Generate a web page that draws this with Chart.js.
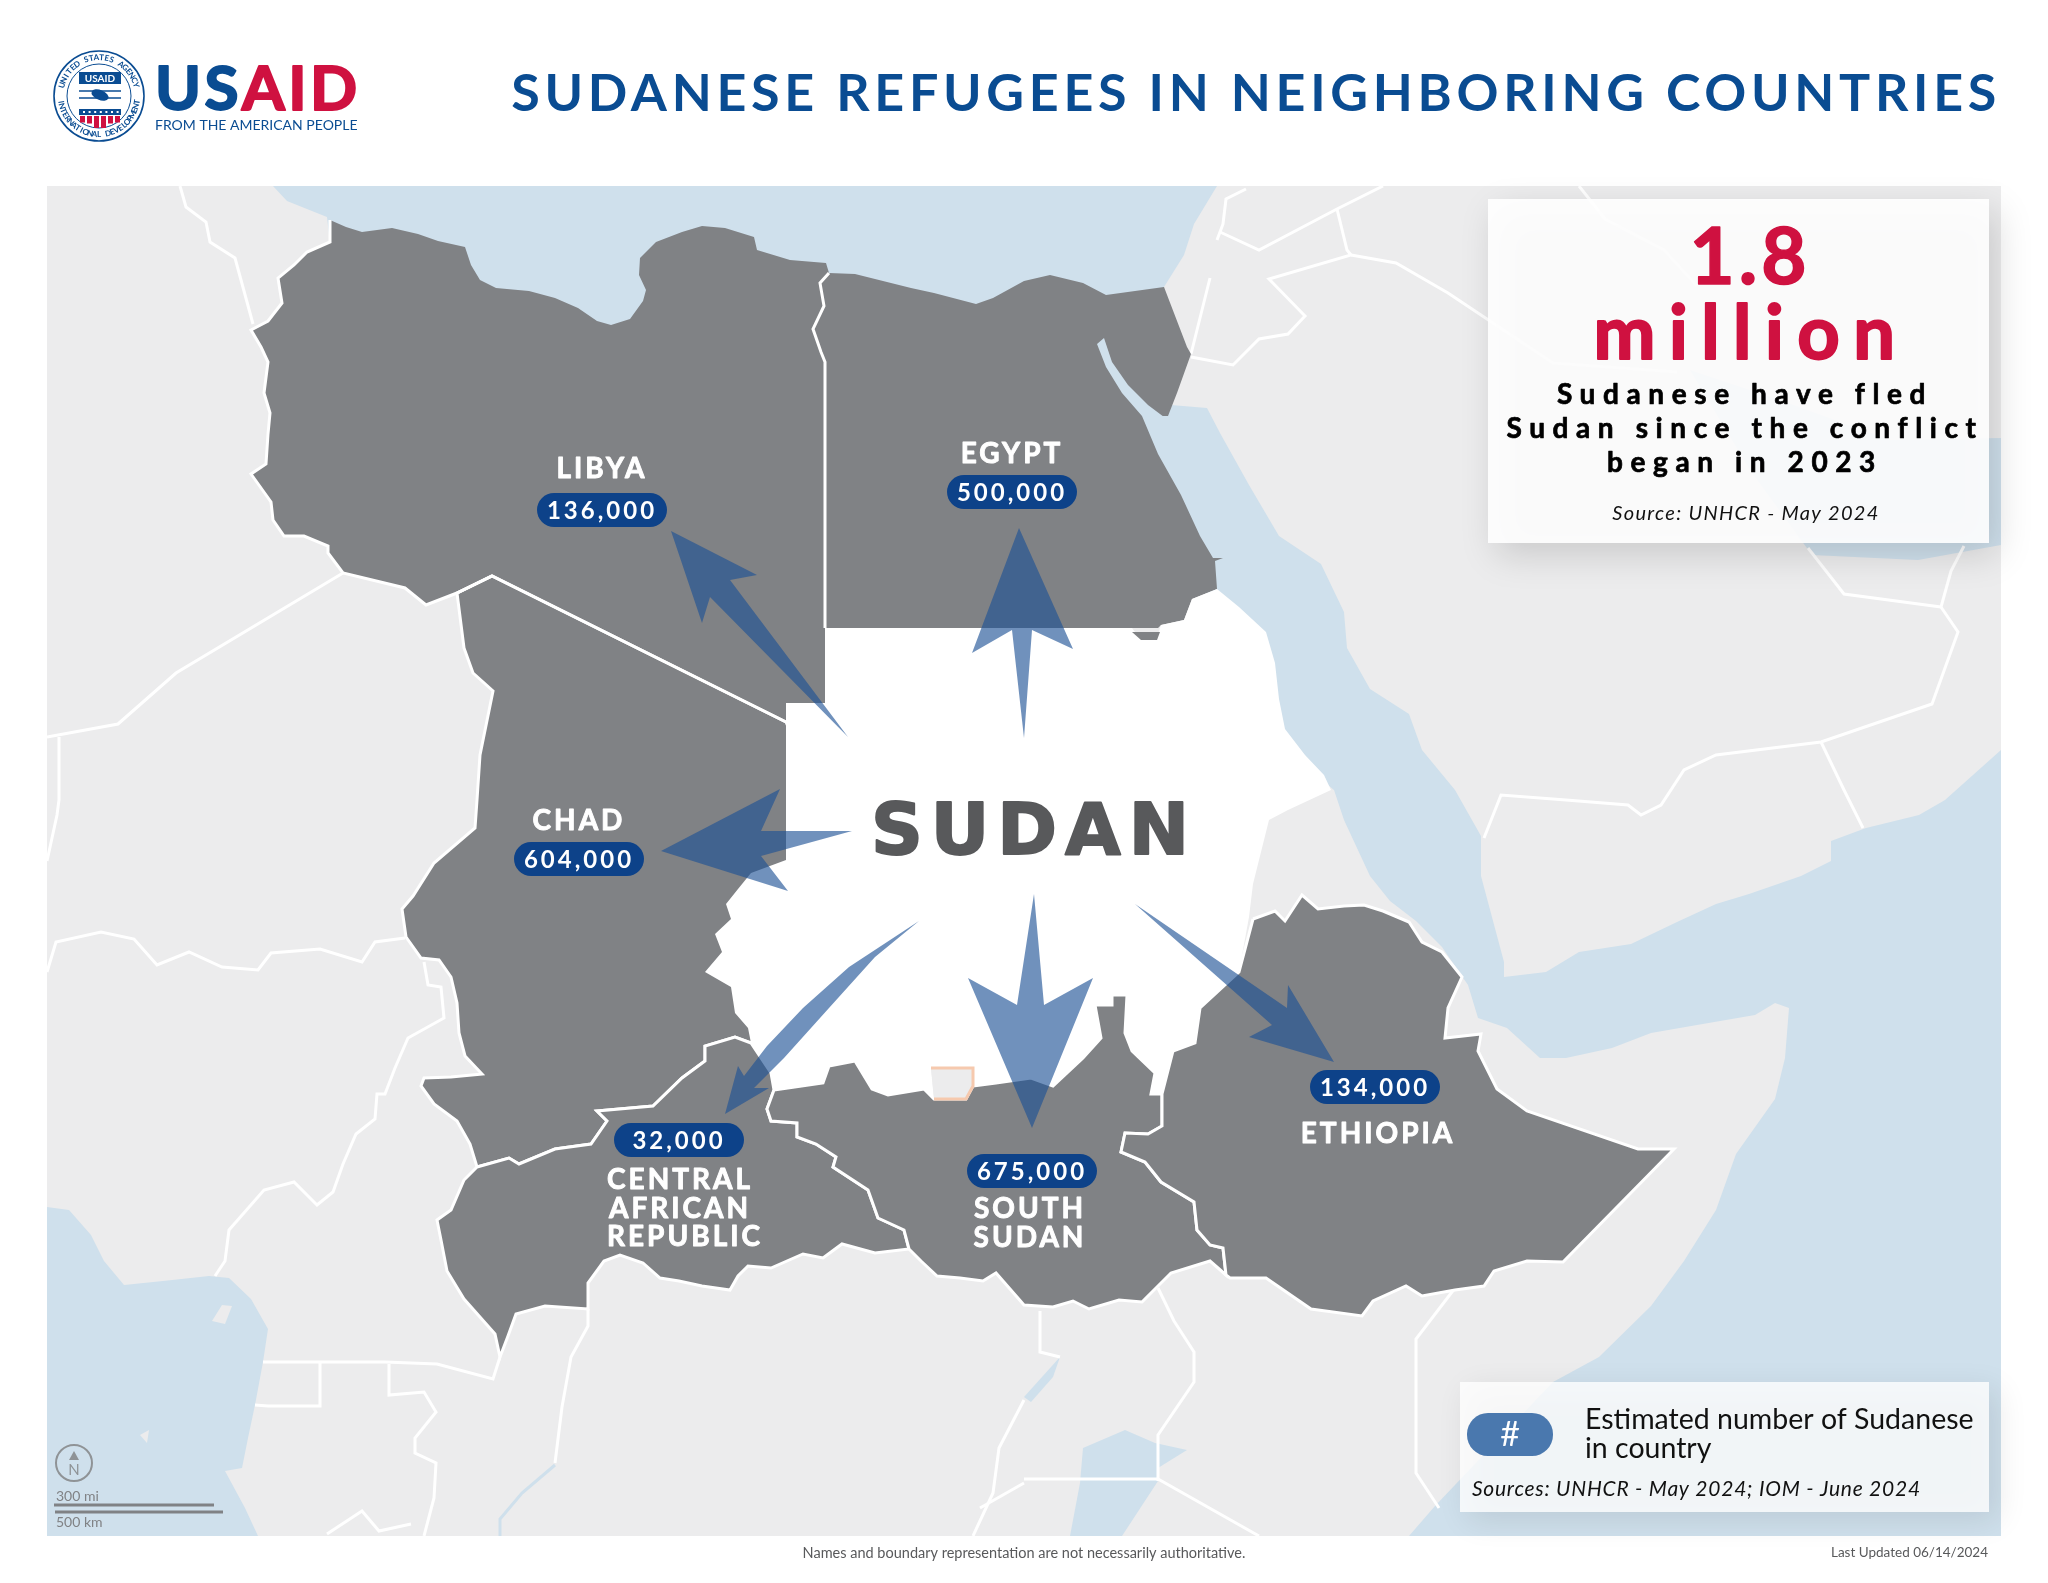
<!DOCTYPE html>
<html>
<head>
<meta charset="utf-8">
<title>Sudanese refugees in neighboring countries</title>
<script src="https://cdn.jsdelivr.net/npm/chart.js@4"></script>
<style>
  html, body { margin: 0; padding: 0; background: #fff; }
  canvas { display: block; }
</style>
</head>
<body>
<canvas id="map" width="2048" height="1583"></canvas>
<script>
// refugee figures
const countries = ["LIBYA", "EGYPT", "CHAD", "CENTRAL AFRICAN REPUBLIC", "SOUTH SUDAN", "ETHIOPIA"];
const refugees = [136000, 500000, 604000, 32000, 675000, 134000];
const nameLines = [["LIBYA"], ["EGYPT"], ["CHAD"], ["CENTRAL", "AFRICAN", "REPUBLIC"], ["SOUTH", "SUDAN"], ["ETHIOPIA"]];
const pillCentres = [[602, 510], [1012, 492], [579, 859], [679, 1140], [1032, 1171], [1375, 1087]];
const nameCentres = [[602, 469], [1012, 454], [579, 821], [680, 1180], [1030, 1209], [1378, 1134]];

// outlines, in map units
const chadCarBorder = [[477,1167],[509,1158],[519,1164],[555,1149],[591,1144],[607,1121],[597,1111],[653,1106],[682,1078],[705,1061],[705,1046],[735,1037],[751,1043]];
const carSudanBorder = [[771,1073],[774,1090]];
const carSouthSudanBorder = [[774,1090],[767,1109],[771,1121],[797,1123],[797,1137],[816,1144],[836,1157],[833,1167],[868,1190],[878,1218],[904,1230],[909,1249]];
const southSudanEthiopiaBorder = [[1151,1094],[1162,1094],[1162,1126],[1148,1134],[1125,1133],[1121,1152],[1145,1162],[1161,1182],[1194,1202],[1197,1230],[1210,1245],[1223,1248],[1226,1275]];
const libyaWestBorder = [[330,220],[330,242],[307,252],[294,265],[278,278],[282,303],[268,321],[251,330],[261,347],[268,362],[264,393],[270,413],[268,434],[266,464],[251,474],[271,502],[273,520],[284,536],[304,536],[328,546],[328,553],[343,573],[405,588],[426,605],[457,593],[492,576]];
const libyaChadBorder = [[457,593],[492,576],[786,722]];
const libyaEgyptBorder = [[829,273],[820,283],[824,306],[813,329],[821,352],[825,362],[825,628]];
const libyaCoast = [[330,220],[346,227],[362,232],[392,228],[418,234],[438,241],[465,247],[471,265],[480,280],[496,288],[529,291],[555,298],[578,308],[597,321],[611,325],[630,319],[643,301],[646,290],[639,275],[640,258],[656,242],[682,232],[702,226],[725,228],[754,237],[757,250],[790,260],[826,263],[829,273]];
const libya = [...libyaCoast, [820,283],[824,306],[813,329],[821,352],[825,362],[825,703],[786,703],[786,722],[492,576],[457,593],[426,605],[405,588],[343,573],[328,553],[328,546],[304,536],[284,536],[273,520],[271,502],[251,474],[266,464],[268,434],[270,413],[264,393],[268,362],[261,347],[251,330],[268,321],[282,303],[278,278],[294,265],[307,252],[330,242]];
const egypt = [[829,273],[855,274],[911,288],[934,293],[976,304],[993,298],[1024,281],[1050,275],[1083,283],[1106,295],[1135,291],[1164,287],[1187,347],[1191,354],[1177,393],[1168,416],[1142,416],[1158,454],[1181,495],[1200,536],[1213,558],[1223,558],[1215,561],[1217,589],[1192,599],[1184,620],[1161,625],[1158,628],[825,628],[825,362],[821,352],[813,329],[824,306],[820,283]];
const gulfOfSuez = [[1097,344],[1104,338],[1112,362],[1128,385],[1148,405],[1164,417],[1142,416],[1122,393],[1106,367]];
const halayeb = [[1132,632],[1160,632],[1157,640],[1141,640]];
const chad = [[457,593],[492,576],[786,722],[820,800],[790,900],[780,1000],[751,1043], ...chadCarBorder.slice().reverse(), [470,1144],[457,1121],[434,1104],[421,1086],[424,1078],[451,1077],[482,1074],[465,1056],[459,1033],[457,1003],[451,977],[439,960],[421,958],[406,937],[402,909],[413,896],[434,863],[475,828],[477,800],[480,755],[493,691],[473,673],[464,648],[457,593]];
const car = [...chadCarBorder, ...carSudanBorder, ...carSouthSudanBorder, [875,1253],[842,1244],[823,1258],[803,1254],[771,1268],[748,1266],[738,1276],[730,1290],[702,1286],[679,1281],[660,1278],[643,1263],[620,1255],[604,1261],[588,1283],[588,1309],[545,1306],[516,1314],[508,1336],[500,1357],[495,1334],[464,1299],[447,1271],[441,1240],[437,1220],[451,1210],[464,1180],[477,1167]];
const southSudan = [[774,1090],[823,1083],[829,1066],[855,1061],[872,1089],[888,1095],[924,1089],[934,1099],[966,1099],[973,1086],[996,1083],[1031,1078],[1053,1086],[1083,1058],[1101,1038],[1095,1005],[1112,1005],[1112,995],[1127,995],[1125,1033],[1132,1051],[1155,1073], ...southSudanEthiopiaBorder, [1210,1261],[1171,1273],[1142,1302],[1119,1300],[1089,1309],[1073,1301],[1053,1307],[1024,1305],[996,1273],[983,1281],[960,1278],[937,1276],[921,1261],[909,1249], ...carSouthSudanBorder.slice().reverse()];
const ethiopia = [[1253,919],[1275,911],[1285,921],[1302,895],[1318,909],[1344,906],[1364,905],[1383,911],[1409,922],[1422,942],[1442,952],[1462,977],[1448,1008],[1445,1038],[1481,1034],[1478,1051],[1497,1089],[1527,1111],[1638,1149],[1674,1149],[1563,1262],[1527,1261],[1494,1271],[1484,1286],[1455,1290],[1422,1296],[1406,1286],[1373,1301],[1362,1316],[1311,1309],[1266,1278],[1230,1278],[1226,1275], ...southSudanEthiopiaBorder.slice().reverse().slice(1, 12), [1173,1051],[1195,1043],[1200,1008],[1239,972],[1253,919]];
const sudan = [[786,703],[825,703],[825,628],[1132,628],[1141,640],[1157,640],[1160,628],[1161,625],[1184,620],[1192,599],[1217,589],[1239,607],[1266,632],[1275,663],[1279,699],[1285,729],[1305,755],[1324,775],[1331,790],[1288,810],[1269,820],[1253,884],[1249,917],[1239,972],[1200,1008],[1195,1043],[1173,1051],[1162,1094],[1151,1094],[1155,1073],[1132,1051],[1125,1033],[1127,995],[1112,995],[1112,1005],[1095,1005],[1101,1038],[1083,1058],[1053,1086],[1031,1078],[996,1083],[973,1086],[973,1068],[931,1068],[934,1099],[924,1089],[888,1095],[872,1089],[855,1061],[829,1066],[823,1083],[774,1090],[771,1073],[751,1043],[748,1028],[735,1013],[731,987],[705,972],[722,952],[715,934],[731,919],[726,904],[738,889],[751,873],[786,860]];
const abyei = [[931,1068],[973,1068],[973,1086],[966,1099],[934,1099]];

// water
const mediterranean = [[273,186],[287,201],[307,209],[327,217],[340,330],[1150,330],[1164,287],[1184,255],[1194,224],[1217,186]];
const redSeaAndOcean = [[1171,405],[1207,408],[1220,433],[1249,485],[1279,536],[1321,564],[1344,612],[1347,648],[1370,689],[1409,714],[1422,750],[1455,790],[1481,836],[1481,876],[1504,962],[1504,977],[1546,972],[1579,952],[1631,944],[1677,922],[1716,904],[1749,894],[1801,876],[1831,861],[1831,841],[1866,828],[1919,815],[1945,800],[2001,750],[2001,1536],[1409,1536],[1435,1506],[1553,1382],[1599,1357],[1651,1306],[1684,1261],[1716,1210],[1736,1154],[1775,1099],[1785,1058],[1789,1008],[1775,1003],[1755,1015],[1697,1025],[1651,1033],[1612,1048],[1566,1058],[1540,1058],[1507,1028],[1478,1018],[1468,985],[1442,947],[1416,921],[1390,901],[1370,876],[1344,820],[1334,790],[1310,770],[1260,700],[1230,640],[1190,560],[1135,440],[1135,416],[1160,405]];
const persianGulf = [[1690,370],[1780,400],[1890,440],[2001,438],[2001,545],[1918,560],[1812,555],[1750,470]];
const atlantic = [[47,1207],[69,1210],[91,1235],[104,1261],[124,1285],[163,1281],[209,1276],[229,1278],[251,1299],[268,1329],[263,1362],[255,1405],[248,1438],[242,1468],[225,1471],[245,1508],[258,1536],[47,1536]];
const bioko = [[212,1321],[222,1305],[232,1306],[225,1324]];
const saoTome = [[140,1435],[149,1430],[147,1443]];
const lakeVictoria = [[1083,1448],[1125,1430],[1155,1443],[1187,1450],[1158,1468],[1158,1481],[1122,1536],[1070,1536],[1080,1483]];
const lakeAlbert = [[1024,1397],[1060,1357],[1053,1377],[1031,1402]];
const congoRiver = [[555,1465],[522,1493],[500,1519],[500,1536]];

// thin borders on the pale land
const otherBorders = [
  [[180,186],[186,207],[206,222],[210,242],[235,258],[253,324]],
  [[343,573],[176,673],[118,724],[47,737]],
  [[59,737],[59,800],[57,815],[47,861]],
  [[47,972],[56,942],[101,932],[134,939],[157,965],[189,952],[222,967],[258,970],[271,953],[320,949],[362,962],[375,942],[405,938]],
  [[424,962],[428,985],[441,987],[444,1018],[408,1038],[395,1068],[385,1094],[377,1094],[375,1119],[356,1134],[343,1164],[333,1192],[317,1205],[294,1182],[264,1190],[229,1230],[225,1261],[215,1276]],
  [[263,1362],[320,1362],[385,1362],[437,1364],[493,1379],[500,1357]],
  [[320,1362],[320,1406],[268,1406],[255,1405]],
  [[389,1364],[389,1395],[424,1392],[436,1412],[415,1438],[415,1453],[436,1463],[434,1498],[424,1536]],
  [[327,1534],[362,1511],[379,1531],[411,1524]],
  [[588,1309],[588,1326],[571,1357],[562,1407],[555,1463]],
  [[1040,1311],[1040,1352],[1060,1357]],
  [[1158,1288],[1174,1321],[1194,1352],[1194,1382],[1158,1435],[1158,1481]],
  [[1024,1479],[1158,1479],[1259,1536]],
  [[1455,1288],[1416,1339],[1416,1473],[1439,1508]],
  [[1024,1400],[999,1448],[993,1493],[973,1536]],
  [[1024,1483],[980,1508]],
  [[1484,838],[1501,795],[1566,800],[1628,805],[1641,815],[1661,805],[1684,770],[1716,755],[1821,742],[1932,704],[1958,632],[1941,607],[1951,571],[1964,546]],
  [[1821,742],[1844,790],[1863,828]],
  [[1941,607],[1844,594],[1808,548]],
  [[1246,189],[1226,199],[1223,224],[1217,240]],
  [[1220,232],[1259,250],[1337,209],[1383,186]],
  [[1337,209],[1347,250],[1351,255],[1269,279],[1305,316],[1288,334],[1259,339],[1233,365],[1191,357]],
  [[1210,278],[1191,354]],
  [[1351,255],[1396,263],[1448,293],[1553,363],[1677,372]],
  [[1579,186],[1605,219],[1664,250],[1697,286]]
];

// flows out of Sudan
const libyaArrow = [[671,531],[757,575],[730,580],[848,737],[710,597],[702,623]];
const egyptArrow = [[1019,528],[972,653],[1012,630],[1024,738],[1032,630],[1073,649]];
const chadArrow = [[661,851],[780,789],[761,831],[852,831],[761,856],[788,891]];
const carArrow = [[725,1114],[738,1066],[744,1076],[767,1046],[803,1008],[849,967],[919,921],[875,957],[829,1008],[784,1058],[754,1088],[769,1088]];
const southSudanArrow = [[1034,894],[1044,1005],[1093,978],[1032,1128],[968,978],[1017,1005]];
const ethiopiaArrow = [[1334,1062],[1249,1037],[1272,1025],[1135,904],[1287,1008],[1288,985]];

const SEA = "#cfe0ec", LAND = "#ececed", GREY = "#808285", WHITE = "#ffffff";
const ARROW = "rgba(28, 81, 149, 0.63)";
const NAVY = "#0a4c92", PILL = "#0d4289", RED = "#cf1140";
const FONT = "Lato, 'Open Sans', sans-serif";

function area(points, color, border) {
  return {
    data: points, showLine: true, fill: "shape", backgroundColor: color, pointRadius: 0,
    borderColor: border || color, borderWidth: border ? 3 : 0, tension: 0
  };
}
function line(points, color, width) {
  return { data: points, showLine: true, fill: false, borderColor: color, borderWidth: width, pointRadius: 0, tension: 0 };
}

// listed bottom first, reversed below because Chart.js paints the first dataset last
const layers = [
  area(mediterranean, SEA), area(redSeaAndOcean, SEA), area(persianGulf, SEA), area(atlantic, SEA),
  area(bioko, LAND), area(saoTome, LAND), area(lakeVictoria, SEA), area(lakeAlbert, SEA),
  line(congoRiver, SEA, 3),
  ...otherBorders.map(b => line(b, WHITE, 3)),
  area(libya, GREY), area(egypt, GREY), area(gulfOfSuez, SEA),
  area(chad, GREY, WHITE), area(car, GREY, WHITE), area(southSudan, GREY, WHITE), area(ethiopia, GREY, WHITE),
  line(libyaWestBorder, WHITE, 3), line(libyaChadBorder, WHITE, 3), line(libyaEgyptBorder, WHITE, 3),
  area(sudan, WHITE), area(halayeb, GREY), area(abyei, LAND, "#f6c9ae"),
  area(libyaArrow, ARROW), area(egyptArrow, ARROW), area(chadArrow, ARROW),
  area(carArrow, ARROW), area(southSudanArrow, ARROW), area(ethiopiaArrow, ARROW)
];

function put(ctx, str, x, y, font, color, align, spacing, heavy) {
  ctx.font = font;
  ctx.fillStyle = color;
  ctx.textAlign = align || "center";
  ctx.textBaseline = "middle";
  ctx.letterSpacing = (spacing || 0) + "px";
  if (heavy) {
    ctx.strokeStyle = color;
    ctx.lineWidth = heavy;
    ctx.lineJoin = "round";
    ctx.strokeText(str, x, y);
  }
  ctx.fillText(str, x, y);
  ctx.letterSpacing = "0px";
}

function drawSeal(ctx, X, Y) {
  const cx = X(99), cy = Y(96);
  ctx.strokeStyle = NAVY;
  ctx.lineWidth = 1.6;
  ctx.beginPath(); ctx.arc(cx, cy, 45, 0, Math.PI * 2); ctx.stroke();
  ctx.lineWidth = 1;
  ctx.beginPath(); ctx.arc(cx, cy, 32, 0, Math.PI * 2); ctx.stroke();
  ctx.fillStyle = NAVY;
  const arcText = (str, mid, step, flip) => {
    [...str].forEach((ch, i) => {
      const a = mid + (i - (str.length - 1) / 2) * step;
      ctx.save();
      ctx.translate(cx + 38.5 * Math.cos(a), cy + 38.5 * Math.sin(a));
      ctx.rotate(flip ? a - Math.PI / 2 : a + Math.PI / 2);
      ctx.font = "bold 8px " + FONT;
      ctx.textAlign = "center";
      ctx.textBaseline = "middle";
      ctx.fillText(ch, 0, 0);
      ctx.restore();
    });
  };
  arcText("UNITED STATES AGENCY", -Math.PI / 2, 0.135, false);
  arcText("INTERNATIONAL DEVELOPMENT", Math.PI / 2, -0.118, true);
  ctx.fillRect(X(79), Y(72), 42, 12);
  put(ctx, "USAID", X(100), Y(78.5), "bold 10px " + FONT, WHITE);
  ctx.fillStyle = NAVY;
  ctx.lineWidth = 1.5;
  ctx.beginPath(); ctx.moveTo(X(79), Y(91)); ctx.lineTo(X(121), Y(91)); ctx.stroke();
  ctx.beginPath(); ctx.moveTo(X(79), Y(98)); ctx.lineTo(X(121), Y(98)); ctx.stroke();
  ctx.beginPath(); ctx.ellipse(X(100), Y(95), 9, 5, 0.4, 0, Math.PI * 2); ctx.fill();
  ctx.fillRect(X(79), Y(109), 42, 6);
  ctx.fillStyle = WHITE;
  for (let i = 0; i < 7; i++) ctx.fillRect(X(83 + i * 5.6), Y(111), 2, 2);
  ctx.fillStyle = RED;
  for (let i = 0; i < 6; i++) {
    const h = i === 2 || i === 3 ? 12 : 9 - Math.abs(i - 2.5);
    ctx.fillRect(X(80 + i * 7), Y(116), 5, h);
  }
}

const pagePlugin = {
  id: "page",
  beforeDraw(chart) {
    const { ctx, chartArea: a } = chart;
    ctx.letterSpacing = "4.7px"; // picked up by the title box
    ctx.save();
    ctx.fillStyle = LAND;
    ctx.fillRect(a.left, a.top, a.width, a.height);
    ctx.restore();
  },
  beforeDatasetsDraw(chart) {
    chart.ctx.letterSpacing = "0px";
  },
  afterDraw(chart) {
    const { ctx, scales } = chart;
    const X = v => scales.x.getPixelForValue(v), Y = v => scales.y.getPixelForValue(v);
    ctx.save();

    // country names and pills
    countries.forEach((c, i) => {
      const [px, py] = pillCentres[i];
      ctx.fillStyle = PILL;
      ctx.beginPath();
      ctx.roundRect(X(px) - 65, Y(py) - 17, 130, 34, 17);
      ctx.fill();
      put(ctx, refugees[i].toLocaleString("en-US"), X(px), Y(py) + 1, "bold 24px " + FONT, WHITE, "center", 3);
      const [nx, ny] = nameCentres[i];
      nameLines[i].forEach((l, j) => {
        const shift = l === "REPUBLIC" ? 5 : 0;
        put(ctx, l, X(nx + shift), Y(ny + j * 28.7), "bold 28px " + FONT, WHITE, "center", 3, 0.9);
      });
    });
    put(ctx, "SUDAN", X(1034), Y(835), "bold 72px 'DejaVu Sans', sans-serif", "#58595b", "center", 8, 2);

    // headline card
    ctx.save();
    ctx.shadowColor = "rgba(0,0,0,0.16)";
    ctx.shadowBlur = 34;
    ctx.shadowOffsetX = 8;
    ctx.shadowOffsetY = 12;
    ctx.fillStyle = "rgba(255,255,255,0.9)";
    ctx.fillRect(X(1488), Y(199), 501, 344);
    ctx.restore();
    put(ctx, "1.8", X(1750), Y(259), "bold 78px " + FONT, RED, "center", 4, 1.5);
    put(ctx, "million", X(1751), Y(335), "bold 74px " + FONT, RED, "center", 13.5, 2);
    put(ctx, "Sudanese have fled", X(1745), Y(395), "bold 28px " + FONT, "#000", "center", 7.6, 0.7);
    put(ctx, "Sudan since the conflict", X(1745), Y(429), "bold 28px " + FONT, "#000", "center", 7.6, 0.7);
    put(ctx, "began in 2023", X(1745), Y(463), "bold 28px " + FONT, "#000", "center", 7.6, 0.7);
    put(ctx, "Source: UNHCR - May 2024", X(1746), Y(514), "italic 20px " + FONT, "#111", "center", 1.3);

    // key
    ctx.save();
    ctx.shadowColor = "rgba(0,0,0,0.12)";
    ctx.shadowBlur = 30;
    ctx.shadowOffsetX = 8;
    ctx.shadowOffsetY = 8;
    ctx.fillStyle = "rgba(255,255,255,0.8)";
    ctx.fillRect(X(1460), Y(1382), 529, 130);
    ctx.restore();
    ctx.fillStyle = "#4a78ae";
    ctx.beginPath();
    ctx.roundRect(X(1467), Y(1413), 86, 43, 21);
    ctx.fill();
    put(ctx, "#", X(1510), Y(1435), "34px " + FONT, WHITE);
    put(ctx, "Estimated number of Sudanese", X(1585), Y(1420), "28.5px " + FONT, "#111", "left");
    put(ctx, "in country", X(1585), Y(1449), "28.5px " + FONT, "#111", "left");
    put(ctx, "Sources: UNHCR - May 2024; IOM - June 2024", X(1472), Y(1489), "italic 21px " + FONT, "#111", "left", 0.75);

    // north arrow and scale bars
    ctx.strokeStyle = "#8f9396";
    ctx.lineWidth = 2;
    ctx.beginPath(); ctx.arc(X(74), Y(1463), 18, 0, Math.PI * 2); ctx.stroke();
    ctx.fillStyle = "#8f9396";
    ctx.beginPath(); ctx.moveTo(X(74), Y(1451)); ctx.lineTo(X(79), Y(1460)); ctx.lineTo(X(69), Y(1460)); ctx.closePath(); ctx.fill();
    put(ctx, "N", X(74), Y(1470), "15px " + FONT, "#8f9396");
    put(ctx, "300 mi", X(56), Y(1496), "14px " + FONT, "#808285", "left");
    put(ctx, "500 km", X(56), Y(1522), "14px " + FONT, "#808285", "left");
    ctx.fillStyle = "#808285";
    ctx.fillRect(X(54), Y(1503.5), 160, 3);
    ctx.fillRect(X(55), Y(1510.5), 168, 3);

    // footer
    put(ctx, "Names and boundary representation are not necessarily authoritative.", X(1024), Y(1553), "14.5px " + FONT, "#58595b", "center");
    put(ctx, "Last Updated 06/14/2024", X(1988), Y(1553), "13.5px " + FONT, "#58595b", "right");

    // logo
    drawSeal(ctx, X, Y);
    ctx.font = "bold 62px " + FONT;
    ctx.textBaseline = "alphabetic";
    ctx.textAlign = "left";
    ctx.letterSpacing = "3.4px";
    ctx.lineWidth = 2;
    ctx.lineJoin = "round";
    ctx.fillStyle = ctx.strokeStyle = NAVY;
    ctx.strokeText("US", X(155), Y(110));
    ctx.fillText("US", X(155), Y(110));
    const usWidth = ctx.measureText("US").width;
    ctx.fillStyle = ctx.strokeStyle = RED;
    ctx.strokeText("AID", X(155) + usWidth, Y(110));
    ctx.fillText("AID", X(155) + usWidth, Y(110));
    ctx.letterSpacing = "0px";
    put(ctx, "FROM THE AMERICAN PEOPLE", X(155), Y(125), "14px " + FONT, NAVY, "left");
    ctx.restore();
  }
};

new Chart(document.getElementById("map"), {
  type: "scatter",
  data: { datasets: layers.slice().reverse() },
  plugins: [pagePlugin],
  options: {
    responsive: false,
    devicePixelRatio: 1,
    animation: false,
    events: [],
    layout: { padding: { left: 47, right: 47, top: 68, bottom: 47 } },
    scales: {
      x: { type: "linear", min: 47, max: 2001, display: false },
      y: { type: "linear", min: 186, max: 1536, reverse: true, display: false }
    },
    plugins: {
      legend: { display: false },
      tooltip: { enabled: false },
      title: {
        display: true,
        text: "SUDANESE REFUGEES IN NEIGHBORING COUNTRIES",
        align: "end",
        color: NAVY,
        font: { family: FONT, size: 52, weight: "bold", lineHeight: 1 },
        padding: { top: 0, bottom: 66 }
      }
    }
  }
});
</script>
</body>
</html>
